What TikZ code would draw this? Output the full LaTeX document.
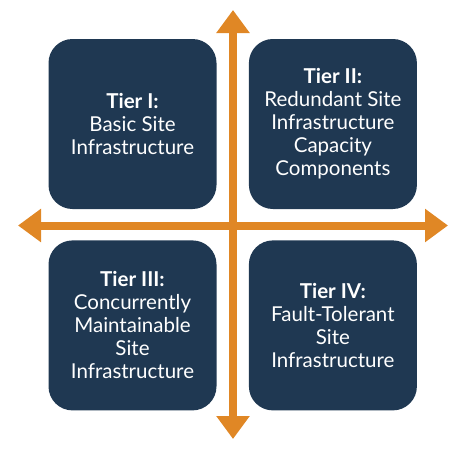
\documentclass[tikz,border=0pt]{standalone}
\usepackage{fontspec}
\setmainfont{Lato}
\usepackage{xcolor}
\usetikzlibrary{arrows.meta, positioning}
\definecolor{tiernavy}{RGB}{31,56,82}
\definecolor{axisorange}{RGB}{224,135,37}

\begin{document}
\begin{tikzpicture}[
  x=1pt, y=-1pt,
  node distance=31pt and 32pt,
  tier/.style={rectangle, rounded corners=24pt, fill=tiernavy, text=white, minimum width=168pt, minimum height=170pt, align=center, inner sep=0pt, font=\fontsize{20.5}{23}\selectfont},
  axis/.style={{Triangle[length=23pt, width=32pt]}-{Triangle[length=23pt, width=32pt]}, line width=8pt, axisorange}
]
  \useasboundingbox (0,0) rectangle (474,461);

  \node[tier] (t1) at (132.5,124) {\textbf{Tier I:}\\Basic Site\\Infrastructure};
  \node[tier, right=of t1] (t2) {\textbf{Tier II:}\\Redundant Site\\Infrastructure\\Capacity\\Components};
  \node[tier, below=of t1] (t3) {\textbf{Tier III:}\\Concurrently\\Maintainable\\Site\\Infrastructure};
  \node[tier, below=of t2] (t4) {\textbf{Tier IV:}\\Fault-Tolerant\\Site\\Infrastructure};

  \coordinate (top) at (233,10);
  \coordinate (bottom) at (233,439);
  \coordinate (left) at (18,225.5);
  \coordinate (right) at (448,225.5);

  \draw[axis] (top) -- (bottom);
  \draw[axis] (left) -- (right);
\end{tikzpicture}
\end{document}
